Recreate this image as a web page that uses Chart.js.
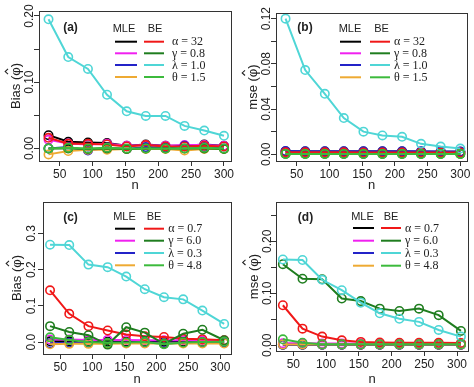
<!DOCTYPE html>
<html>
<head>
<meta charset="utf-8">
<script src="https://cdn.jsdelivr.net/npm/chart.js@4.4.1/dist/chart.umd.min.js"></script>
<style>
  html, body { margin: 0; padding: 0; background: #fff; }
  #wrap { position: relative; width: 474px; height: 387px; }
  canvas { position: absolute; }
</style>
</head>
<body>
<div id="wrap">
  <canvas id="pa" width="237" height="193" style="left:0;top:0"></canvas>
  <canvas id="pb" width="237" height="193" style="left:237px;top:0"></canvas>
  <canvas id="pc" width="237" height="194" style="left:0;top:193px"></canvas>
  <canvas id="pd" width="237" height="194" style="left:237px;top:193px"></canvas>
</div>
<script>
// sample sizes (x positions)
const nTop = [33, 63, 93, 122, 152, 181, 211, 240, 270, 300];
const nBottom = [34, 64, 94, 124, 153, 182, 212, 242, 272, 306];
const xTicks = [50, 100, 150, 200, 250, 300];

// legend labels
const paramsTop = ["α = 32", "γ = 0.8", "λ = 1.0", "θ = 1.5"];
const paramsBottom = ["α = 0.7", "γ = 6.0", "λ = 0.3", "θ = 4.8"];

// series colours: MLE alpha, gamma, lambda, theta, then BE alpha, gamma, lambda, theta
const seriesColors = ["#000000", "#f020f0", "#2323c8", "#eeaa33",
                      "#f01818", "#1f7d1f", "#4fd6d6", "#3cba3c"];

// (a) bias, first setting
const biasA_mleAlpha = [0.020, 0.010, 0.009, 0.008, 0.004, 0.006, 0.004, 0.004, 0.006, 0.004];
const biasA_mleGamma = [0.013, 0.0075, 0.006, 0.007, 0.004, 0.005, 0.004, 0.005, 0.005, 0.004];
const biasA_mleLambda = [0.000, 0.002, -0.003, 0.001, -0.001, 0.002, 0.001, 0.004, 0.002, 0.000];
const biasA_mleTheta = [-0.009, -0.004, -0.002, -0.002, -0.001, -0.001, -0.001, -0.003, -0.001, -0.001];
const biasA_beAlpha = [0.016, 0.007, 0.007, 0.006, 0.003, 0.005, 0.003, 0.003, 0.004, 0.003];
const biasA_beGamma = [0.000, 0.000, -0.001, 0.000, -0.001, 0.000, 0.000, 0.000, 0.000, -0.001];
const biasA_beLambda = [0.195, 0.138, 0.120, 0.081, 0.056, 0.049, 0.049, 0.034, 0.027, 0.019];
const biasA_beTheta = [0.000, 0.001, 0.000, 0.001, 0.000, 0.000, 0.000, 0.000, 0.001, 0.000];

// (b) mse, first setting
const mseB_mleAlpha = [0.0025, 0.0024, 0.0024, 0.0023, 0.0023, 0.0023, 0.0023, 0.0022, 0.0022, 0.0022];
const mseB_mleGamma = [0.0015, 0.0014, 0.0014, 0.0014, 0.0013, 0.0013, 0.0013, 0.0013, 0.0013, 0.0013];
const mseB_mleLambda = [0.0028, 0.0027, 0.0027, 0.0026, 0.0026, 0.0026, 0.0026, 0.0026, 0.0025, 0.0025];
const mseB_mleTheta = [0.0006, 0.0005, 0.0005, 0.0005, 0.0005, 0.0005, 0.0005, 0.0005, 0.0005, 0.0005];
const mseB_beAlpha = [0.0018, 0.0017, 0.0017, 0.0017, 0.0016, 0.0016, 0.0016, 0.0016, 0.0016, 0.0016];
const mseB_beGamma = [0.0003, 0.0003, 0.0003, 0.0003, 0.0003, 0.0003, 0.0003, 0.0003, 0.0003, 0.0003];
const mseB_beLambda = [0.120, 0.0745, 0.0535, 0.032, 0.020, 0.0166, 0.0154, 0.0092, 0.0068, 0.0050];
const mseB_beTheta = [0.0002, 0.0002, 0.0002, 0.0002, 0.0002, 0.0002, 0.0002, 0.0002, 0.0002, 0.0002];

// (c) bias, second setting
const biasC_mleAlpha = [0.002, 0.002, 0.002, 0.001, 0.001, 0.001, 0.001, 0.001, 0.001, 0.001];
const biasC_mleGamma = [0.007, 0.007, 0.006, 0.006, 0.006, 0.005, 0.005, 0.005, 0.004, 0.004];
const biasC_mleLambda = [-0.003, -0.002, -0.002, -0.002, -0.002, -0.002, -0.002, -0.002, -0.002, -0.002];
const biasC_mleTheta = [-0.006, -0.005, -0.005, -0.005, -0.004, -0.004, -0.004, -0.004, -0.004, -0.004];
const biasC_beAlpha = [0.143, 0.078, 0.044, 0.032, 0.021, 0.016, 0.014, 0.009, 0.008, 0.005];
const biasC_beGamma = [0.044, 0.028, 0.019, -0.007, 0.041, 0.026, -0.005, 0.023, 0.034, 0.005];
const biasC_beLambda = [0.269, 0.268, 0.214, 0.207, 0.181, 0.146, 0.124, 0.118, 0.087, 0.050];
const biasC_beTheta = [0.013, 0.006, 0.000, -0.002, -0.001, 0.000, -0.006, -0.001, 0.000, 0.001];

// (d) mse, second setting
const mseD_mleAlpha = [0.001, 0.001, 0.001, 0.001, 0.001, 0.001, 0.001, 0.001, 0.001, 0.001];
const mseD_mleGamma = [0.004, 0.004, 0.0035, 0.0035, 0.0035, 0.0035, 0.0035, 0.0035, 0.0035, 0.0035];
const mseD_mleLambda = [0.001, 0.001, 0.001, 0.001, 0.001, 0.001, 0.001, 0.001, 0.001, 0.001];
const mseD_mleTheta = [0.0015, 0.0015, 0.0015, 0.0015, 0.0015, 0.0015, 0.0015, 0.0015, 0.0015, 0.0015];
const mseD_beAlpha = [0.077, 0.032, 0.0167, 0.0096, 0.0065, 0.0055, 0.005, 0.005, 0.0048, 0.0045];
const mseD_beGamma = [0.156, 0.128, 0.127, 0.090, 0.085, 0.0705, 0.066, 0.0705, 0.058, 0.0276];
const mseD_beLambda = [0.165, 0.164, 0.126, 0.106, 0.082, 0.0615, 0.051, 0.045, 0.0295, 0.0167];
const mseD_beTheta = [0.0115, 0.005, 0.002, 0.002, 0.002, 0.002, 0.002, 0.002, 0.002, 0.002];

const SANS = '"Liberation Sans", Arial, sans-serif';
const SERIF = '"Liberation Serif", "Times New Roman", serif';

// R-like decorations: box, vertical y labels + title with hat, panel tag, two-column legend
const rDecor = {
  id: "rDecor",
  afterDraw(chart, args, o) {
    const { ctx, chartArea: a } = chart;
    const ys = chart.scales.y;
    const ds = chart.data.datasets;
    ctx.save();
    ctx.strokeStyle = "#333";
    ctx.lineWidth = 1;
    ctx.strokeRect(Math.round(a.left) + 0.5, Math.round(a.top) + 0.5,
      Math.round(a.right - a.left), Math.round(a.bottom - a.top));

    ctx.fillStyle = "#222";
    ctx.font = "12px " + SANS;
    ctx.textAlign = "center";
    ctx.textBaseline = "middle";
    o.yLabels.forEach((v) => {
      const y = ys.getPixelForValue(v);
      ctx.save();
      ctx.translate(o.yLabelX, y);
      ctx.rotate(-Math.PI / 2);
      ctx.fillText(v.toFixed(o.yDigits), 0, 0);
      ctx.restore();
    });

    // y title: "<word> (φ)" with a hat over φ
    ctx.save();
    ctx.font = "13px " + SANS;
    ctx.textAlign = "left";
    ctx.textBaseline = "alphabetic";
    const head = o.yWord + " (";
    const wHead = ctx.measureText(head).width;
    const wPhi = ctx.measureText("φ").width;
    const wAll = ctx.measureText(head + "φ)").width;
    ctx.translate(o.yTitleX, (a.top + a.bottom) / 2);
    ctx.rotate(-Math.PI / 2);
    const x0 = -wAll / 2;
    ctx.fillText(head + "φ)", x0, 0);
    const hx = x0 + wHead + wPhi / 2;
    ctx.strokeStyle = "#222";
    ctx.lineWidth = 1.1;
    ctx.beginPath();
    ctx.moveTo(hx - 2.6, -12);
    ctx.lineTo(hx, -14.8);
    ctx.lineTo(hx + 2.6, -12);
    ctx.stroke();
    ctx.restore();

    ctx.font = "bold 12px " + SANS;
    ctx.fillText(o.tag, o.tagX, o.tagY);

    const L = o.legend;
    ctx.font = "11px " + SANS;
    ctx.fillText("MLE", L.mleX, L.headY);
    ctx.fillText("BE", L.beX, L.headY);
    ctx.font = "12px " + SERIF;
    ctx.textAlign = "left";
    ctx.lineWidth = 2;
    o.params.forEach((txt, i) => {
      const y = L.rows[i];
      ctx.strokeStyle = ds[i].borderColor;
      ctx.beginPath();
      ctx.moveTo(L.mle[0], y);
      ctx.lineTo(L.mle[1], y);
      ctx.stroke();
      ctx.strokeStyle = ds[i + 4].borderColor;
      ctx.beginPath();
      ctx.moveTo(L.be[0], y);
      ctx.lineTo(L.be[1], y);
      ctx.stroke();
      ctx.fillText(txt, L.textX, y + 0.5);
    });
    ctx.restore();
  },
};

function makePanel(id, p) {
  const names = ["MLE α", "MLE γ", "MLE λ", "MLE θ", "BE α", "BE γ", "BE λ", "BE θ"];
  const datasets = p.values.map((vals, i) => ({
    label: names[i],
    data: p.n.map((x, k) => ({ x: x, y: vals[k] })),
    showLine: true,
    borderColor: seriesColors[i],
    borderWidth: 2,
    pointRadius: 4.2,
    pointBorderWidth: 1.6,
    pointBackgroundColor: "rgba(0,0,0,0)",
    pointBorderColor: seriesColors[i],
    order: 8 - i,
  }));
  return new Chart(document.getElementById(id), {
    type: "scatter",
    data: { datasets: datasets },
    plugins: [rDecor],
    options: {
      responsive: false,
      animation: false,
      events: [],
      layout: { padding: { left: 0, top: p.top, right: p.right, bottom: 0 } },
      scales: {
        x: {
          type: "linear",
          min: p.xMin,
          max: p.xMax,
          afterBuildTicks: (s) => { s.ticks = xTicks.map((v) => ({ value: v })); },
          afterFit: (s) => { s.height = p.bottomSpace; s.paddingLeft = 0; s.paddingRight = 0; },
          grid: { display: true, drawOnChartArea: false, tickLength: 5, color: "#333" },
          border: { display: true, color: "#333" },
          ticks: { color: "#222", font: { family: SANS, size: 12 }, padding: 1, maxRotation: 0, autoSkip: false },
          title: { display: true, text: "n", color: "#222", font: { family: SANS, size: 13 }, padding: { top: 0, bottom: 0 } },
        },
        y: {
          min: p.yMin,
          max: p.yMax,
          afterBuildTicks: (s) => { s.ticks = p.yTicks.map((v) => ({ value: v })); },
          afterFit: (s) => { s.width = p.leftSpace; s.paddingTop = 0; s.paddingBottom = 0; },
          grid: { display: true, drawOnChartArea: false, tickLength: 5, color: "#333" },
          border: { display: true, color: "#333" },
          ticks: { display: false },
          title: { display: false },
        },
      },
      plugins: {
        legend: { display: false },
        tooltip: { enabled: false },
        rDecor: {
          yLabels: p.yLabels, yDigits: p.yDigits, yLabelX: p.yLabelX,
          yWord: p.yWord, yTitleX: p.yTitleX,
          tag: p.tag, tagX: p.tagX, tagY: p.tagY,
          params: p.params, legend: p.legend,
        },
      },
    },
  });
}

makePanel("pa", {
  n: nTop,
  values: [biasA_mleAlpha, biasA_mleGamma, biasA_mleLambda, biasA_mleTheta,
           biasA_beAlpha, biasA_beGamma, biasA_beLambda, biasA_beTheta],
  xMin: 18.5, xMax: 310.7, yMin: -0.019, yMax: 0.2075,
  yTicks: [0, 0.05, 0.1, 0.15, 0.2], yLabels: [0, 0.1, 0.2], yDigits: 2,
  yWord: "Bias", yTitleX: 20, top: 11, right: 6, leftSpace: 39, bottomSpace: 32, yLabelX: 30,
  tag: "(a)", tagX: 70.5, tagY: 28,
  params: paramsTop,
  legend: { headY: 29, mleX: 124, beX: 155, mle: [115, 137], be: [144, 164], textX: 172, rows: [41.7, 53.3, 65, 77] },
});

makePanel("pb", {
  n: nTop,
  values: [mseB_mleAlpha, mseB_mleGamma, mseB_mleLambda, mseB_mleTheta,
           mseB_beAlpha, mseB_beGamma, mseB_beLambda, mseB_beTheta],
  xMin: 18.4, xMax: 310.2, yMin: -0.006, yMax: 0.125,
  yTicks: [0, 0.02, 0.04, 0.06, 0.08, 0.1, 0.12], yLabels: [0, 0.04, 0.08, 0.12], yDigits: 2,
  yWord: "mse", yTitleX: 20, top: 13, right: 7, leftSpace: 39, bottomSpace: 32, yLabelX: 29.5,
  tag: "(b)", tagX: 68, tagY: 27.5,
  params: paramsTop,
  legend: { headY: 29.3, mleX: 113, beX: 144.5, mle: [103, 124], be: [133, 153], textX: 157, rows: [41.7, 53.3, 65, 77.3] },
});

makePanel("pc", {
  n: nBottom,
  values: [biasC_mleAlpha, biasC_mleGamma, biasC_mleLambda, biasC_mleTheta,
           biasC_beAlpha, biasC_beGamma, biasC_beLambda, biasC_beTheta],
  xMin: 23, xMax: 317, yMin: -0.033, yMax: 0.387,
  yTicks: [0, 0.1, 0.2, 0.3], yLabels: [0, 0.1, 0.2, 0.3], yDigits: 1,
  yWord: "Bias", yTitleX: 21, top: 9, right: 5, leftSpace: 43, bottomSpace: 33, yLabelX: 32,
  tag: "(c)", tagX: 70.5, tagY: 25,
  params: paramsBottom,
  legend: { headY: 24, mleX: 124.5, beX: 154, mle: [115, 135], be: [144, 164], textX: 168.3, rows: [35.7, 47.7, 60, 72.3] },
});

makePanel("pd", {
  n: nBottom,
  values: [mseD_mleAlpha, mseD_mleGamma, mseD_mleLambda, mseD_mleTheta,
           mseD_beAlpha, mseD_beGamma, mseD_beLambda, mseD_beTheta],
  xMin: 23.5, xMax: 316.8, yMin: -0.011, yMax: 0.2756,
  yTicks: [0, 0.05, 0.1, 0.15, 0.2, 0.25], yLabels: [0, 0.1, 0.2], yDigits: 2,
  yWord: "mse", yTitleX: 20.5, top: 9, right: 6, leftSpace: 39, bottomSpace: 36, yLabelX: 31,
  tag: "(d)", tagX: 68.5, tagY: 25,
  params: paramsBottom,
  legend: { headY: 24, mleX: 125.5, beX: 154, mle: [116, 137], be: [144, 164], textX: 168, rows: [35, 47.7, 60, 72.7] },
});
</script>
</body>
</html>
